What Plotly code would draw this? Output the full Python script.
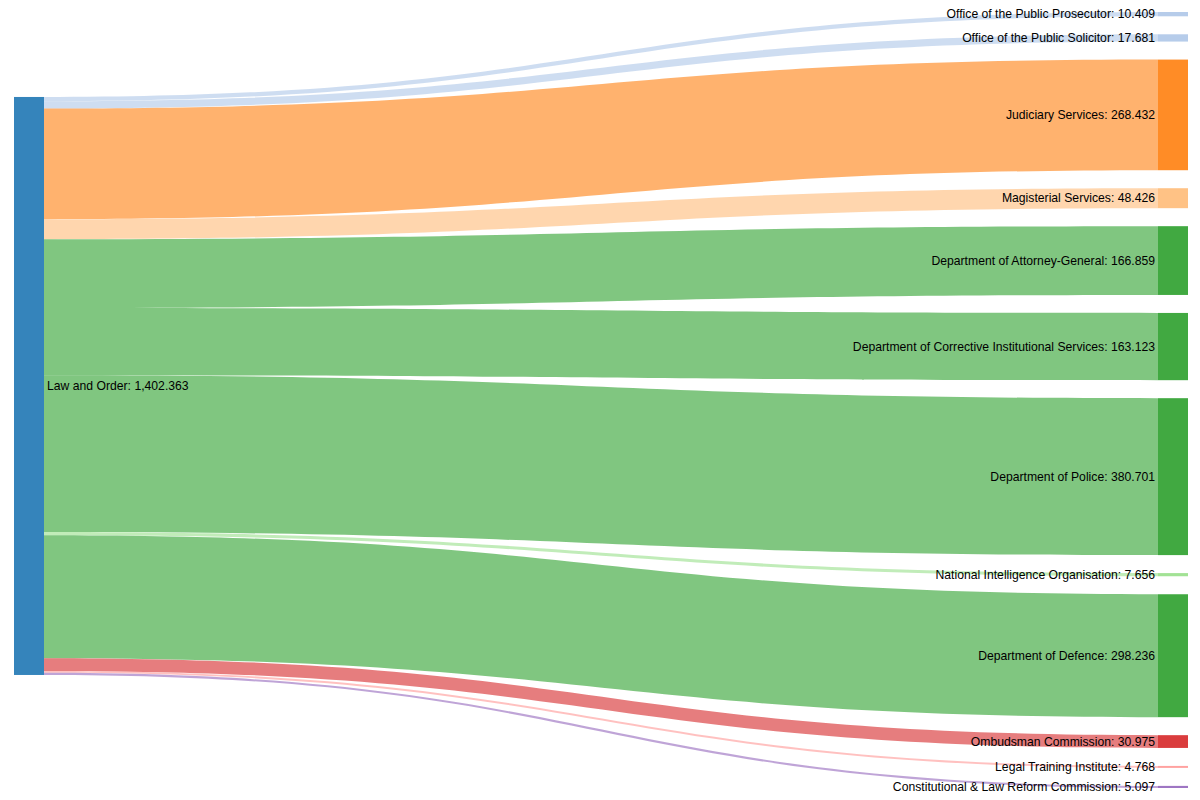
import plotly.graph_objects as go

source_name = "Law and Order"
targets = [
    "Office of the Public Prosecutor",
    "Office of the Public Solicitor",
    "Judiciary Services",
    "Magisterial Services",
    "Department of Attorney-General",
    "Department of Corrective Institutional Services",
    "Department of Police",
    "National Intelligence Organisation",
    "Department of Defence",
    "Ombudsman Commission",
    "Legal Training Institute",
    "Constitutional & Law Reform Commission",
]
values = [10.409, 17.681, 268.432, 48.426, 166.859, 163.123, 380.701,
          7.656, 298.236, 30.975, 4.768, 5.097]

source_color = (31, 119, 180)
target_colors = [
    (174, 199, 232), (174, 199, 232),
    (255, 127, 14), (255, 187, 120),
    (44, 160, 44), (44, 160, 44), (44, 160, 44),
    (152, 223, 138), (44, 160, 44),
    (214, 39, 40), (255, 152, 150), (148, 103, 189),
]


def rgba(c, a):
    return f"rgba({c[0]},{c[1]},{c[2]},{a})"


W, H = 1200, 800
M_L, M_R, M_T, M_B = 14, 12, 12, 12
THICK, PAD = 30, 18
dom_w = W - M_L - M_R
dom_h = H - M_T - M_B

total = sum(values)
# same vertical scale plotly's sankey uses for the tallest column
ky = (dom_h - (len(values) - 1) * PAD) / total

# target node centres, stacked in the given order
ty = []
acc = 0.0
for i, v in enumerate(values):
    h = v * ky
    ty.append((acc + h / 2) / dom_h)
    acc += h + PAD

# source node placement (layout fraction of the plot height)
src_top_frac = 0.1095
src_y = src_top_frac + (total * ky / 2) / dom_h

node_x = [(THICK / 2) / dom_w] + [(dom_w - THICK / 2) / dom_w] * len(values)
node_y = [src_y] + ty

labels = [f"{source_name}: {total:,.3f}"] + [f"{n}: {v:,.3f}" for n, v in zip(targets, values)]
node_colors = [rgba(source_color, 0.9)] + [rgba(c, 0.9) for c in target_colors]
link_colors = [rgba(c, 0.6) for c in target_colors]

fig = go.Figure(go.Sankey(
    arrangement="fixed",
    node=dict(
        label=labels,
        color=node_colors,
        thickness=THICK,
        pad=PAD,
        line=dict(width=0),
        x=node_x,
        y=node_y,
    ),
    link=dict(
        source=[0] * len(targets),
        target=list(range(1, len(targets) + 1)),
        value=values,
        color=link_colors,
    ),
    textfont=dict(family="Liberation Sans, Arial, sans-serif", size=12.2,
                  color="black", shadow="none"),
    hoverinfo="none",
))

fig.update_layout(
    width=W, height=H,
    margin=dict(l=M_L, r=M_R, t=M_T, b=M_B),
    paper_bgcolor="white",
    plot_bgcolor="white",
)

fig.write_html("out.html")
